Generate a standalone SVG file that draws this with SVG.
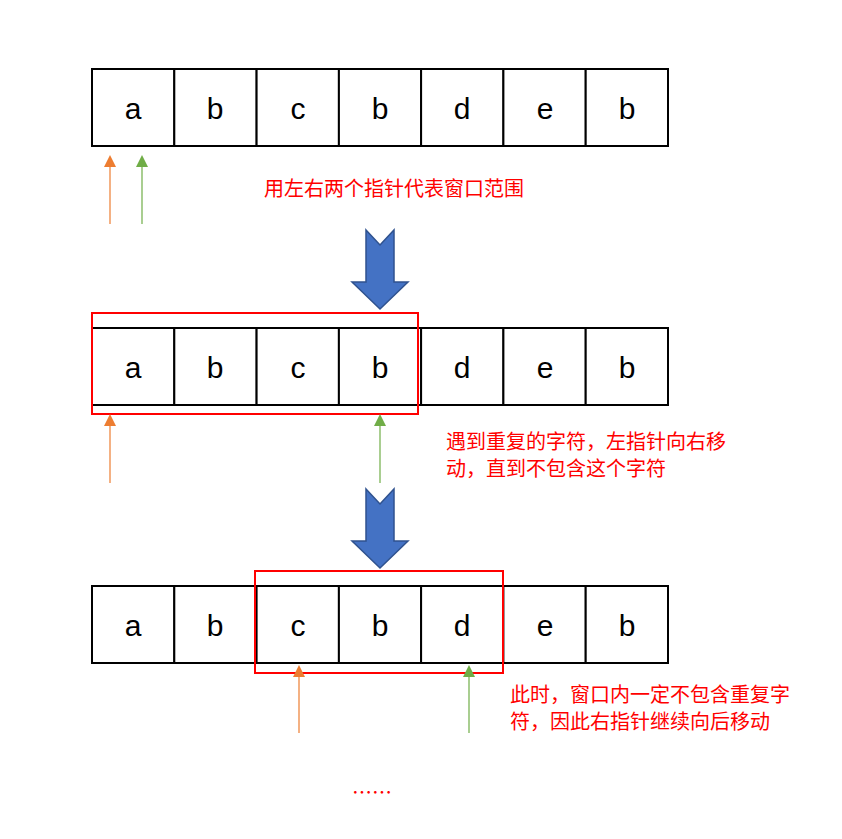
<svg xmlns="http://www.w3.org/2000/svg" width="842" height="839" viewBox="0 0 842 839">
<style>
.c{fill:#fff;stroke:#000;stroke-width:2}
.t{font-family:"Liberation Sans",Arial,sans-serif;font-size:30px;text-anchor:middle}
.r{fill:none;stroke:#f00;stroke-width:2}
.n{font-family:"Noto Sans CJK SC",sans-serif;font-size:20px;fill:#f00}
.o{stroke:#ed7d31;stroke-width:1.2}
.g{stroke:#70ad47;stroke-width:1.2}
.b{fill:#4472c4;stroke:#2f528f;stroke-width:1.5}
</style>
<defs>
<g id="row">
<rect class="c" x="92" y="0" width="82.3" height="77"/><rect class="c" x="174.3" y="0" width="82.3" height="77"/><rect class="c" x="256.6" y="0" width="82.3" height="77"/><rect class="c" x="338.9" y="0" width="82.3" height="77"/><rect class="c" x="421.1" y="0" width="82.3" height="77"/><rect class="c" x="503.4" y="0" width="82.3" height="77"/><rect class="c" x="585.7" y="0" width="82.3" height="77"/>
<g class="t"><text x="133" y="50">a</text><text x="215" y="50">b</text><text x="298" y="50">c</text><text x="380" y="50">b</text><text x="462" y="50">d</text><text x="545" y="50">e</text><text x="627" y="50">b</text></g>
</g>
<path id="big" class="b" d="M366,0 L380,15 L394,0 L394,52 L408,52 L380,79 L352,52 L366,52 Z"/>
<polygon id="ho" points="0,0 -6,12 6,12" fill="#ed7d31"/>
<polygon id="hg" points="0,0 -6,12 6,12" fill="#70ad47"/>
</defs>
<g id="row1"><use href="#row" y="69"/></g>
<g id="row2"><use href="#row" y="328"/></g>
<g id="row3"><use href="#row" y="586"/></g>
<g id="bigarrows"><use href="#big" y="230"/><use href="#big" y="489"/></g>
<g id="windows"><rect class="r" x="92" y="313" width="326" height="101"/><rect class="r" x="255" y="571" width="248" height="102"/></g>
<g id="connectors">
<line class="o" x1="110" y1="224" x2="110" y2="165"/><use href="#ho" x="110" y="155"/>
<line class="g" x1="142" y1="224" x2="142" y2="165"/><use href="#hg" x="142" y="155"/>
<line class="o" x1="110" y1="483" x2="110" y2="424"/><use href="#ho" x="110" y="414"/>
<line class="g" x1="380" y1="483" x2="380" y2="424"/><use href="#hg" x="380" y="414"/>
<line class="o" x1="299" y1="733" x2="299" y2="675"/><use href="#ho" x="299" y="665"/>
<line class="g" x1="469" y1="733" x2="469" y2="675"/><use href="#hg" x="469" y="665"/>
</g>
<g id="labels">
<text class="n" x="264" y="196">用左右两个指针代表窗口范围</text>
<text class="n" x="446" y="449">遇到重复的字符，左指针向右移</text>
<text class="n" x="446" y="476">动，直到不包含这个字符</text>
<text class="n" x="510" y="702">此时，窗口内一定不包含重复字</text>
<text class="n" x="510" y="729">符，因此右指针继续向后移动</text>
<text class="n" x="352" y="800">……</text>
</g>
</svg>
